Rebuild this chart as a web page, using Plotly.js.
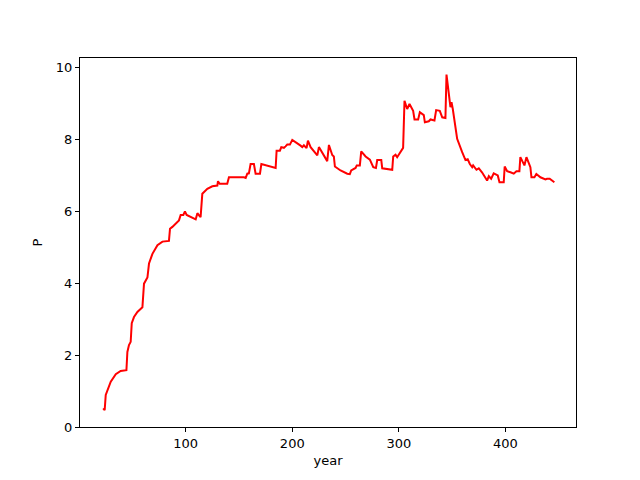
<!DOCTYPE html>
<html>
<head>
<meta charset="utf-8">
<script src="https://cdn.plot.ly/plotly-3.0.1.min.js"></script>
<style>
body { margin: 0; background: #fff; }
#chart { width: 640px; height: 480px; }
</style>
</head>
<body>
<div id="chart"></div>
<script>
// values
var year = [22.6, 24, 25, 29.7, 34.4, 39, 44.4, 45.3, 46.8, 48.4, 49.4, 51.5, 54.7, 59.4, 60.9, 64.1, 65.6, 68.8, 73.5, 78.2, 84.3,
    85.3, 87.5, 93.7, 95.3, 97.8, 99.3, 100.9, 109.4, 111, 113.1, 114, 115.6, 120.3, 125, 129.7, 130.3, 131.9, 139, 140.6,
    154.7, 156.3, 157.8, 159.3, 160.9, 164, 165.6, 169.7, 171, 182.8, 184.4, 185.3, 188.4, 189.7, 192.2, 193.7, 195.3, 197.8,
    200, 207.8, 209.4, 210.9, 213.4, 214.7, 217.2, 223.5, 225, 232.8, 234.4, 237.5, 239, 240, 245.3, 251.6, 254, 255.3,
    259.4, 260.5, 263.4, 264.7, 268.8, 272.8, 276, 278.5, 279.7, 283.5, 284.4, 293.8, 294.7, 296.9, 298.4, 304, 305.3,
    307.8, 310, 313.4, 314.7, 318.1, 319.7, 323.4, 324.4, 328.1, 329.7, 333.4, 335, 338.4, 340.7, 343.7, 344.7, 348.4,
    349.4, 350.6, 354.7, 359.4, 362.5, 364.6, 366.6, 368.8, 369.7, 372.8, 375, 378, 382.8, 384.4, 386.6, 389, 392.8,
    394.4, 398.4, 399.3, 401.6, 404.7, 407.8, 410.3, 413.1, 414, 416.2, 417.8, 419.7, 423.4, 424.4, 427.2, 429, 432.8,
    437.5, 439, 441.5, 445.9];
var P = [0.52, 0.47, 0.89, 1.26, 1.47, 1.56, 1.58, 2.09, 2.28, 2.37, 2.89, 3.06, 3.2, 3.33, 3.99, 4.16, 4.55, 4.82, 5.06, 5.16, 5.18,
    5.52, 5.57, 5.75, 5.9, 5.9, 6.0, 5.9, 5.78, 5.95, 5.87, 5.84, 6.49, 6.63, 6.7, 6.72, 6.84, 6.77, 6.77, 6.95,
    6.95, 6.93, 7.05, 7.06, 7.32, 7.32, 7.05, 7.05, 7.32, 7.23, 7.21, 7.69, 7.69, 7.79, 7.77, 7.81, 7.86, 7.86,
    7.99, 7.83, 7.79, 7.84, 7.76, 7.97, 7.79, 7.56, 7.79, 7.4, 7.85, 7.57, 7.53, 7.25, 7.14, 7.05, 7.04, 7.14,
    7.21, 7.28, 7.28, 7.67, 7.53, 7.44, 7.23, 7.21, 7.43, 7.43, 7.2, 7.16, 7.53, 7.58, 7.51, 7.77, 9.08,
    8.85, 8.99, 8.8, 8.56, 8.56, 8.76, 8.68, 8.48, 8.51, 8.56, 8.53, 8.82, 8.8, 8.62, 8.6, 9.81, 8.9,
    9.04, 8.85, 8.02, 7.65, 7.43, 7.45, 7.32, 7.23, 7.28, 7.16, 7.2, 7.09, 6.86, 6.98, 6.91, 7.06, 7.0,
    6.81, 6.81, 7.25, 7.12, 7.09, 7.05, 7.12, 7.12, 7.51, 7.4, 7.28, 7.51, 7.23, 6.95, 6.95, 7.04, 6.95,
    6.89, 6.91, 6.91, 6.81];

var xticks = [100, 200, 300, 400];
var yticks = [0, 2, 4, 6, 8, 10];

var trace = {
    type: 'scatter',
    x: year,
    y: P,
    mode: 'lines',
    line: { color: 'rgb(255, 0, 0)', width: 2 },
    showlegend: false
};

var axisStyle = {
    showgrid: false,
    zeroline: false,
    showline: true,
    mirror: true,
    linecolor: '#000',
    linewidth: 1,
    ticks: 'outside',
    ticklen: 4,
    tickcolor: '#000',
    tickfont: { family: 'DejaVu Sans', size: 13, color: '#000' }
};

var layout = {
    width: 640,
    height: 480,
    margin: { l: 80, r: 64, t: 58, b: 53 },
    paper_bgcolor: '#fff',
    plot_bgcolor: '#fff',
    font: { family: 'DejaVu Sans', color: '#000' },
    xaxis: Object.assign({}, axisStyle, {
        range: [0.85, 466.2],
        tickvals: xticks,
        title: { text: 'year', font: { family: 'DejaVu Sans', size: 13, color: '#000' }, standoff: 6 }
    }),
    yaxis: Object.assign({}, axisStyle, {
        range: [0, 10.27],
        tickvals: yticks,
        title: { text: 'P', font: { family: 'DejaVu Sans', size: 13, color: '#000' }, standoff: 10 }
    })
};

Plotly.newPlot('chart', [trace], layout, { displayModeBar: false, staticPlot: true });
</script>
</body>
</html>
